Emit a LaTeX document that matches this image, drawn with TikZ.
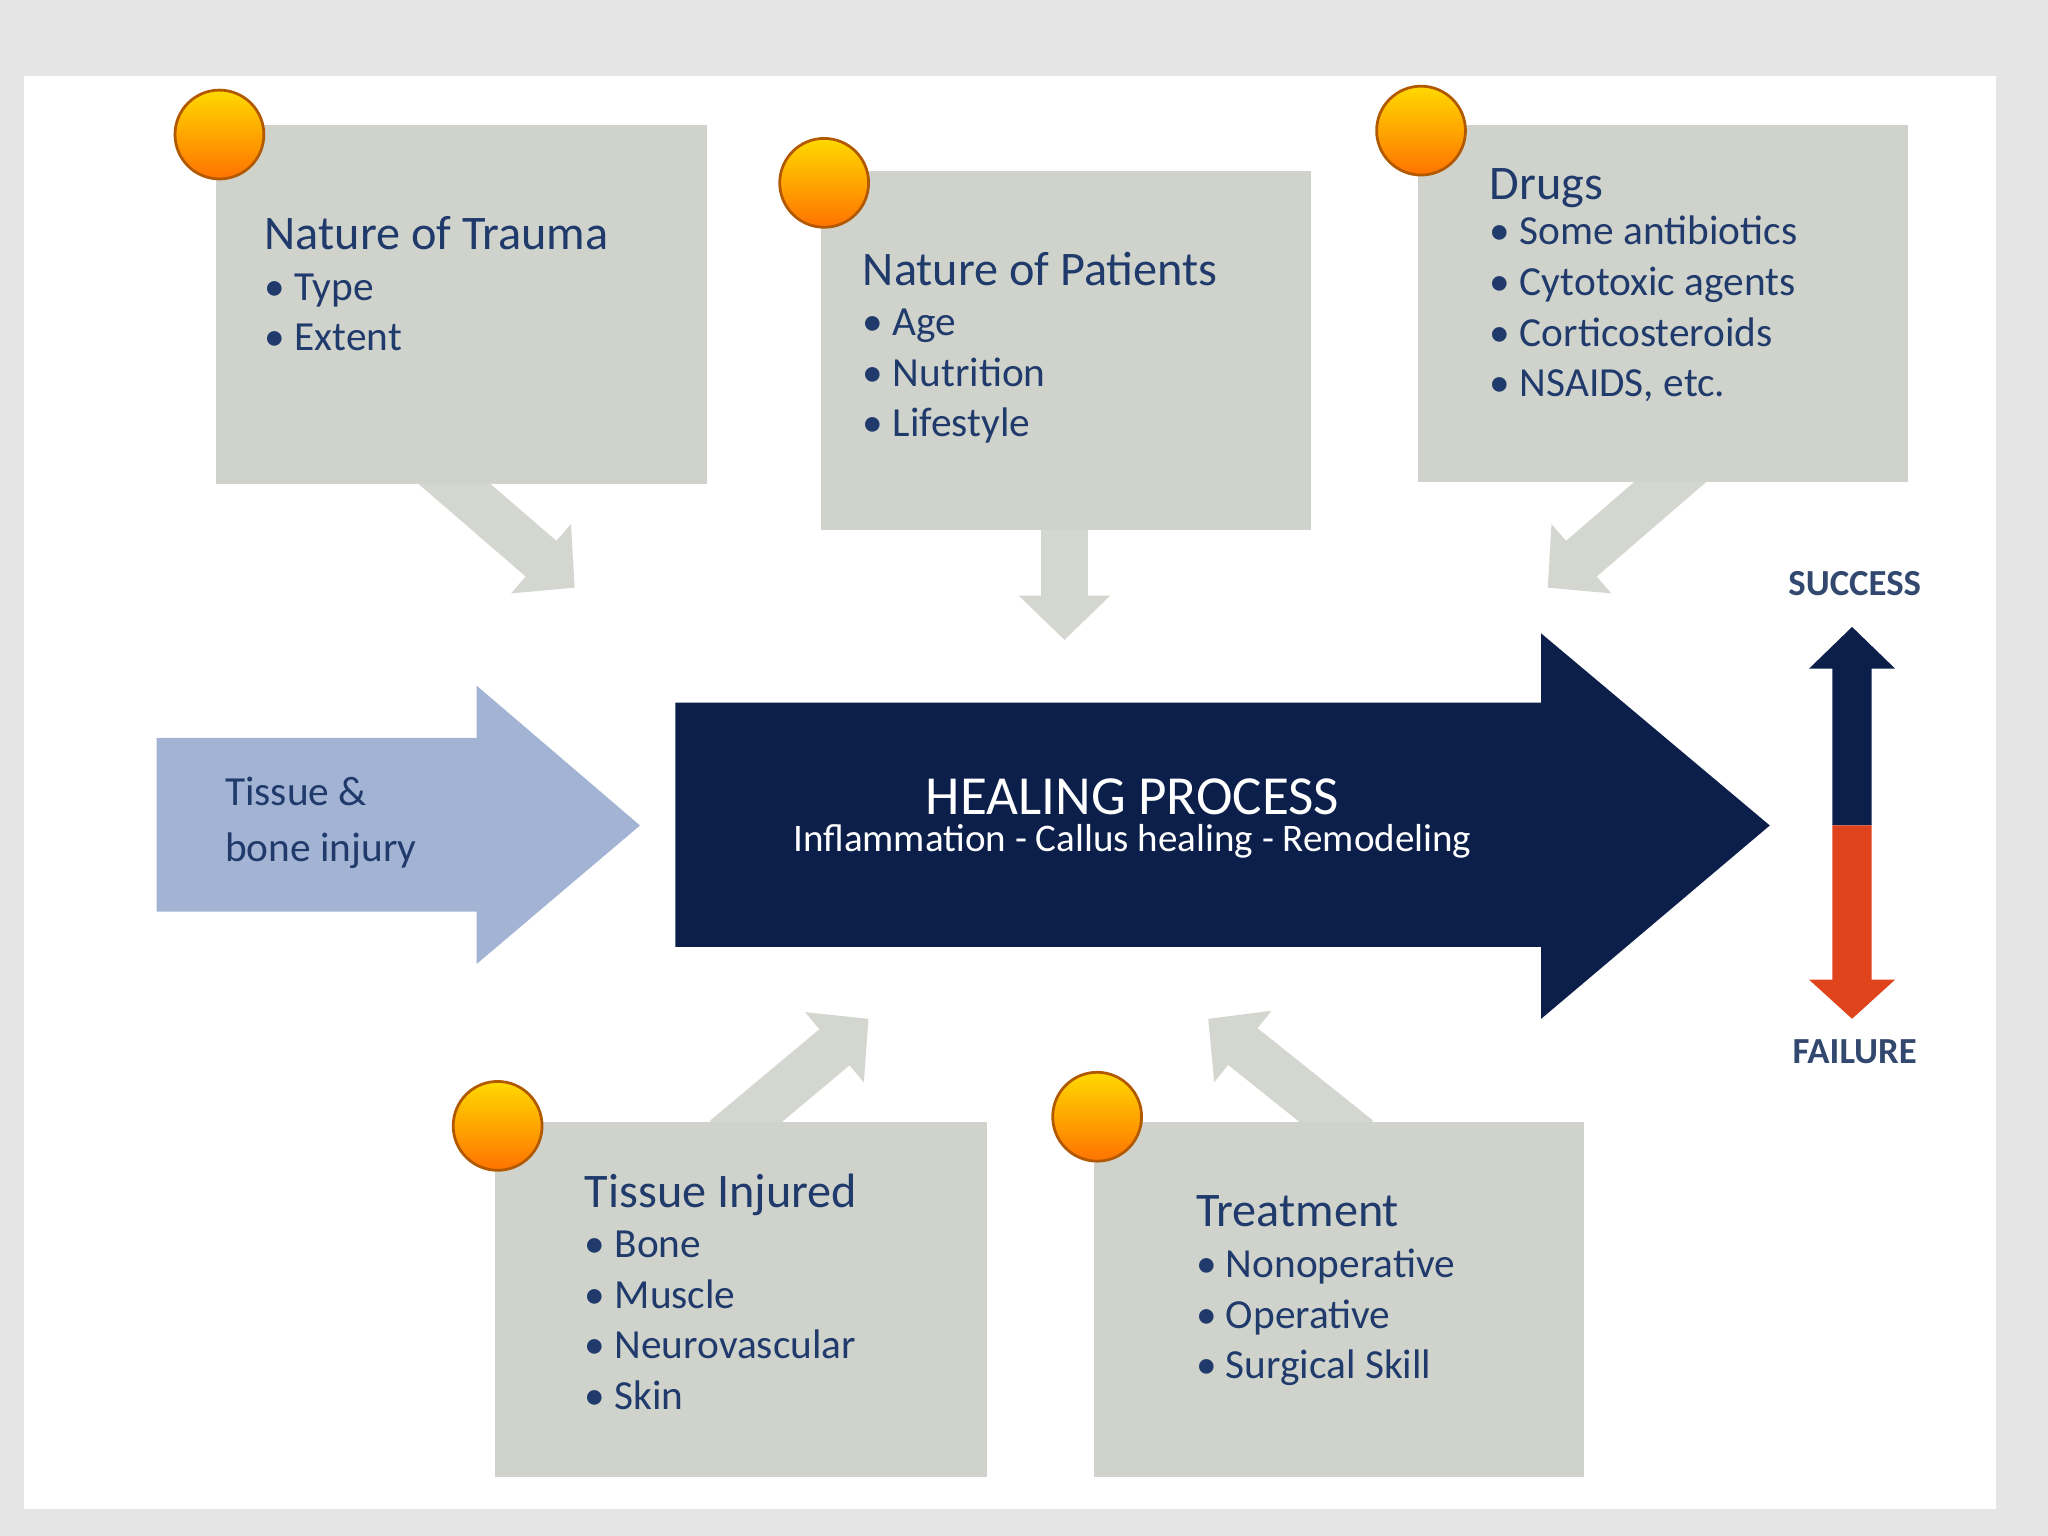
\documentclass[tikz,border=0pt]{standalone}
\usepackage{fontspec}
\setmainfont{Carlito}
\usetikzlibrary{arrows.meta}
\begin{document}
\begin{tikzpicture}[x=0.01cm,y=-0.01cm,
 box/.style={fill=boxg,draw=none},
 ga/.style={draw=arrg,line width=0.36cm,-{Triangle[length=0.34cm,width=0.68cm]}},
 coin/.style={circle,minimum size=0.68cm,inner sep=0,draw=orange!70!black,line width=0.6pt,top color=yellow!70!orange,bottom color=orange!90!red},
 ttl/.style={anchor=north west,align=left,text=tblue,font=\fontsize{10.5}{12}\selectfont,inner sep=0},
 lab/.style={text=tblue!80!gray,font=\bfseries\fontsize{8}{9}\selectfont}]
\definecolor{boxg}{HTML}{CFD3CC}
\definecolor{arrg}{HTML}{D4D6D0}
\definecolor{tblue}{HTML}{1F3A6B}
\definecolor{navy}{HTML}{0C1E4A}
\definecolor{lblue}{HTML}{A3B3D4}
\definecolor{red1}{HTML}{E0441C}
\newcommand{\bsz}{\fontsize{9}{10}\selectfont}
\useasboundingbox (0,0) rectangle (1568,1176);
\fill[gray!20] (0,0) rectangle (1568,1176);
\fill[white] (18,58) rectangle (1528,1155);
% small arrows (under the boxes)
\coordinate (a1) at (440,450); \coordinate (a2) at (815,490); \coordinate (a3) at (1185,450);
\coordinate (a4) at (665,780); \coordinate (a5) at (925,780);
\coordinate (s1) at (330,355); \coordinate (s2) at (815,395); \coordinate (s3) at (1295,355);
\coordinate (s4) at (555,872); \coordinate (s5) at (1040,872);
\draw[ga] (s1) -- (a1);
\draw[ga] (s2) -- (a2);
\draw[ga] (s3) -- (a3);
\draw[ga] (s4) -- (a4);
\draw[ga] (s5) -- (a5);
% boxes
\node[box,inner sep=0,minimum width=3.75cm,minimum height=2.75cm,anchor=north west] (b1) at (165,95) {};
\node[box,inner sep=0,minimum width=3.75cm,minimum height=2.75cm,anchor=north west] (b2) at (628,130) {};
\node[box,inner sep=0,minimum width=3.75cm,minimum height=2.73cm,anchor=north west] (b3) at (1085,95) {};
\node[box,inner sep=0,minimum width=3.77cm,minimum height=2.72cm,anchor=north west] (b4) at (378,858) {};
\node[box,inner sep=0,minimum width=3.75cm,minimum height=2.72cm,anchor=north west] (b5) at (837,858) {};
\node[coin] (c1) at (168,103) {};
\node[coin] (c2) at (631,140) {};
\node[coin] (c3) at (1088,100) {};
\node[coin] (c4) at (381,862) {};
\node[coin] (c5) at (840,855) {};
\node[ttl] (t1) at (202,165) {Nature of Trauma\\[-1pt]\bsz • Type\\[-1pt]\bsz • Extent};
\node[ttl] (t2) at (660,192) {Nature of Patients\\[-1pt]\bsz • Age\\[-1pt]\bsz • Nutrition\\[-1pt]\bsz • Lifestyle};
\node[ttl] (t3) at (1140,128) {Drugs\\[-2pt]\bsz • Some antibiotics\\[-1pt]\bsz • Cytotoxic agents\\[-1pt]\bsz • Corticosteroids\\[-1pt]\bsz • NSAIDS, etc.};
\node[ttl] (t4) at (447,898) {Tissue Injured\\[-1pt]\bsz • Bone\\[-1pt]\bsz • Muscle\\[-1pt]\bsz • Neurovascular\\[-1pt]\bsz • Skin};
\node[ttl] (t5) at (915,915) {Treatment\\[-1pt]\bsz • Nonoperative\\[-1pt]\bsz • Operative\\[-1pt]\bsz • Surgical Skill};
% big arrows
\fill[lblue] (120,565) -- (365,565) -- (365,525) -- (490,632) -- (365,738) -- (365,698) -- (120,698) -- cycle;
\node[text=tblue,align=left,anchor=west,font=\fontsize{9}{12}\selectfont] (inj) at (160,630) {Tissue \&\\bone injury};
\fill[navy] (517,538) -- (1180,538) -- (1180,485) -- (1355,632) -- (1180,780) -- (1180,725) -- (517,725) -- cycle;
\node[text=white,font=\fontsize{12}{14}\selectfont,inner sep=0] (hp) at (867,610) {HEALING PROCESS};
\node[text=white,font=\fontsize{8.5}{10}\selectfont,inner sep=0] (hs) at (867,644) {Inflammation - Callus healing - Remodeling};
% success/failure
\fill[navy] (1403,632) -- (1403,512) -- (1385,512) -- (1418,480) -- (1451,512) -- (1433,512) -- (1433,632) -- cycle;
\fill[red1] (1403,632) -- (1403,750) -- (1385,750) -- (1418,780) -- (1451,750) -- (1433,750) -- (1433,632) -- cycle;
\node[lab] (s) at (1420,447) {SUCCESS};
\node[lab] (f) at (1420,805) {FAILURE};
\end{tikzpicture}
\end{document}
